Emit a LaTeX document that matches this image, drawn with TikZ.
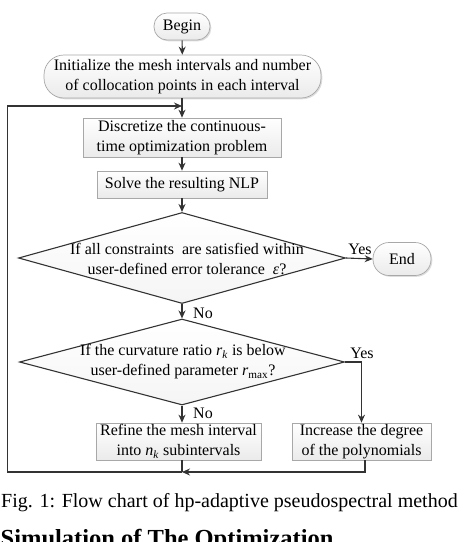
\documentclass[tikz,border=0pt]{standalone}
\usepackage{fontspec}
\setmainfont{Liberation Serif}
\usetikzlibrary{shapes.geometric,arrows.meta,shadows,calc}
\definecolor{ln}{HTML}{333333}
\definecolor{bd}{HTML}{A8A8A8}
\begin{document}
\begin{tikzpicture}[x=1pt,y=-1pt,
  txt/.style={font=\fontsize{16}{20}\selectfont, align=center, inner sep=0pt},
  box/.style={txt, draw=bd, line width=0.7pt, top color=white, bottom color=gray!16,
    drop shadow={shadow xshift=1.3pt,shadow yshift=-1.3pt,fill=gray!45,opacity=0.6}},
  rbox/.style={box, rounded corners=#1},
  dia/.style={draw=ln, line width=1.1pt, shape=diamond, inner sep=0pt, top color=white, bottom color=gray!8},
  arr/.style={draw=ln, line width=1.1pt, -{Stealth[length=8pt,width=7pt]}},
  ln/.style={draw=ln, line width=1.1pt},
  lab/.style={txt}
]
\useasboundingbox (0,0) rectangle (474,542);
\clip (0,0) rectangle (474,542);

\node[rbox=13pt, minimum width=56pt, minimum height=27pt] (begin) at (182,26.5) {Begin};
\node[rbox=20pt, minimum width=277pt, minimum height=43pt] (init) at (182.5,76.5)
  {Initialize the mesh intervals and number\\of collocation points in each interval};
\node[box, minimum width=198pt, minimum height=39pt] (disc) at (182,137.5)
  {Discretize the continuous-\\time optimization problem};
\node[box, minimum width=170pt, minimum height=27pt] (solve) at (182,184.5) {Solve the resulting NLP};
\node[dia, minimum width=327pt, minimum height=91pt] (d1) at (182,258) {};
\node[txt] (d1t) at (187,258.5) {If all constraints\ \ are satisfied within\\user-defined error tolerance\ \ \textit{ε}?};
\node[rbox=16pt, minimum width=58pt, minimum height=33pt] (end) at (402,259) {End};
\node[dia, minimum width=325pt, minimum height=86pt] (d2) at (182,362) {};
\node[txt] (d2t) at (183,362) {If the curvature ratio \textit{r}\textsubscript{\textit{k}} is below\\user-defined parameter \textit{r}\textsubscript{max}?};
\node[box, minimum width=165pt, minimum height=37pt] (refine) at (178.5,441.5)
  {Refine the mesh interval\\into \textit{n}\textsubscript{\textit{k}} subintervals};
\node[box, minimum width=139pt, minimum height=37pt] (inc) at (361.5,441.5)
  {Increase the degree\\of the polynomials};

\node[lab] (y1) at (360,249) {Yes};
\node[lab] (y2) at (362,353) {Yes};
\node[lab] (n1) at (203,313) {No};
\node[lab] (n2) at (203,413) {No};

\coordinate (j) at (182,472);
\coordinate (lc) at (7.5,472);
\coordinate (loopin) at (182,106);

\draw[arr] (begin) -- (init);
\draw[arr] (init.south -| disc.north) -- (disc.north);
\draw[arr] (disc) -- (solve);
\draw[arr] (solve) -- (d1.north);
\draw[arr] (d1.east) -- (end.west);
\draw[arr] (d1.south) -- (d2.north);
\draw[arr] (d2.south) -- (d2.south |- refine.north);
\draw[arr] (d2.east) -| (inc.north);
\draw[ln] (refine.south -| j) -- (j);
\draw[arr] ($(inc.south)+(3.5,0)$) |- (j);
\draw[arr] (j) -- (lc) |- (loopin);

\node[anchor=base west, inner sep=0pt, font=\fontsize{20}{24}\selectfont] (cap) at (1,507)
  {Fig. 1: Flow chart of hp-adaptive pseudospectral method};
\node[anchor=base west, inner sep=0pt, font=\fontsize{24.5}{28}\selectfont\bfseries] (head) at (0.5,546)
  {Simulation of The Optimization};
\end{tikzpicture}
\end{document}
